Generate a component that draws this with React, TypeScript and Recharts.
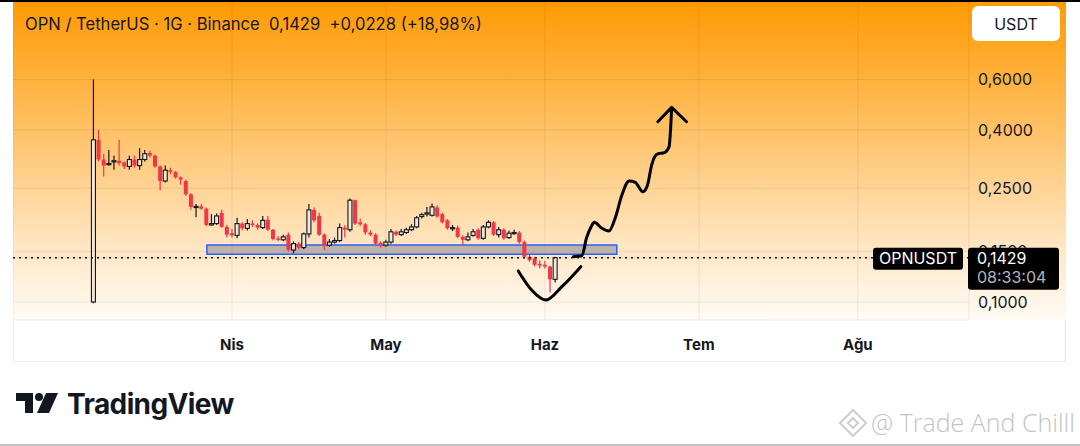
import React from 'react';
import {
    ComposedChart,
    Bar,
    Line,
    XAxis,
    YAxis,
    CartesianGrid,
    ReferenceLine,
    ReferenceArea,
} from 'recharts';

const font = 'Inter, Roboto, "Noto Sans", sans-serif';

// gün 0 = 1 Nisan, ilk mum 5 Mart
const firstDay = -27;

const opens = [
    0.100, 0.369, 0.315, 0.303, 0.310, 0.312, 0.308, 0.298, 0.315, 0.300,
    0.315, 0.332, 0.325, 0.298, 0.265, 0.289, 0.285, 0.273, 0.265, 0.238,
    0.214, 0.216, 0.212, 0.186, 0.188, 0.205, 0.183, 0.174, 0.171, 0.188,
    0.181, 0.188, 0.186, 0.182, 0.194, 0.179, 0.167, 0.165, 0.172, 0.152,
    0.160, 0.155, 0.173, 0.210, 0.200, 0.172, 0.158, 0.162, 0.164, 0.182,
    0.179, 0.227, 0.190, 0.187, 0.175, 0.172, 0.161, 0.158, 0.162, 0.176,
    0.172, 0.175, 0.179, 0.183, 0.199, 0.203, 0.201, 0.214, 0.203, 0.193,
    0.181, 0.182, 0.169, 0.165, 0.171, 0.179, 0.167, 0.183, 0.190, 0.172,
    0.179, 0.168, 0.174, 0.175, 0.162, 0.144, 0.142, 0.136, 0.135, 0.133, 0.120,
];
const highs = [
    0.600, 0.400, 0.330, 0.340, 0.325, 0.369, 0.310, 0.325, 0.325, 0.345,
    0.340, 0.338, 0.328, 0.300, 0.300, 0.295, 0.287, 0.275, 0.268, 0.240,
    0.220, 0.220, 0.214, 0.203, 0.204, 0.210, 0.186, 0.180, 0.197, 0.190,
    0.195, 0.193, 0.188, 0.200, 0.200, 0.180, 0.170, 0.172, 0.175, 0.163,
    0.162, 0.175, 0.220, 0.214, 0.205, 0.174, 0.166, 0.168, 0.188, 0.186,
    0.230, 0.228, 0.196, 0.189, 0.178, 0.174, 0.163, 0.165, 0.180, 0.178,
    0.180, 0.182, 0.187, 0.200, 0.205, 0.215, 0.221, 0.218, 0.205, 0.195,
    0.186, 0.185, 0.171, 0.175, 0.180, 0.181, 0.186, 0.193, 0.192, 0.183,
    0.181, 0.178, 0.179, 0.177, 0.164, 0.146, 0.144, 0.140, 0.139, 0.134, 0.144,
];
const lows = [
    0.099, 0.310, 0.275, 0.300, 0.290, 0.300, 0.292, 0.290, 0.295, 0.290,
    0.310, 0.320, 0.295, 0.246, 0.262, 0.280, 0.270, 0.257, 0.235, 0.210,
    0.198, 0.210, 0.184, 0.185, 0.186, 0.182, 0.168, 0.168, 0.167, 0.178,
    0.178, 0.183, 0.179, 0.180, 0.177, 0.164, 0.163, 0.163, 0.150, 0.148,
    0.153, 0.153, 0.168, 0.190, 0.170, 0.152, 0.156, 0.160, 0.162, 0.168,
    0.176, 0.186, 0.184, 0.172, 0.170, 0.158, 0.155, 0.156, 0.160, 0.170,
    0.170, 0.173, 0.177, 0.181, 0.196, 0.199, 0.199, 0.197, 0.188, 0.179,
    0.177, 0.167, 0.158, 0.163, 0.169, 0.165, 0.165, 0.181, 0.170, 0.168,
    0.165, 0.166, 0.172, 0.160, 0.142, 0.138, 0.133, 0.131, 0.131, 0.108, 0.117,
];
const closes = [
    0.369, 0.315, 0.300, 0.305, 0.312, 0.306, 0.298, 0.315, 0.300, 0.315,
    0.330, 0.325, 0.298, 0.265, 0.289, 0.285, 0.273, 0.268, 0.238, 0.215,
    0.216, 0.212, 0.186, 0.188, 0.200, 0.183, 0.172, 0.171, 0.188, 0.181,
    0.188, 0.186, 0.182, 0.193, 0.179, 0.166, 0.165, 0.169, 0.152, 0.160,
    0.155, 0.173, 0.210, 0.193, 0.172, 0.158, 0.162, 0.164, 0.182, 0.179,
    0.227, 0.188, 0.187, 0.175, 0.172, 0.160, 0.158, 0.162, 0.176, 0.172,
    0.176, 0.179, 0.183, 0.197, 0.202, 0.205, 0.215, 0.199, 0.190, 0.181,
    0.182, 0.169, 0.165, 0.169, 0.176, 0.167, 0.183, 0.190, 0.172, 0.179,
    0.167, 0.174, 0.175, 0.162, 0.144, 0.140, 0.135, 0.134, 0.133, 0.120, 0.1429,
];

const monthTicks = [0, 30, 61, 91, 122];
const monthLabels = ['Nis', 'May', 'Haz', 'Tem', 'Ağu'];
const priceTicks = [0.1, 0.15, 0.25, 0.4, 0.6];

const lastPrice = 0.1429;
const changeText = '+0,0228 (+18,98%)';
const countdown = '08:33:04';

// destek bölgesi
const zoneDays = [-4.9, 75];
const zonePrices = [0.1468, 0.1582];

// elle çizilmiş V ve yükseliş oku
const dipDays = [55.8, 58.4, 61.2, 64.3, 68.0];
const dipPrices = [0.1284, 0.1101, 0.1016, 0.1131, 0.1329];
const rallyDays = [66.5, 68.2, 69.1, 70.0, 70.6, 72.1, 73.5, 74.7, 76.0, 77.4, 78.6, 80.1, 81.0, 81.8, 82.8, 84.4, 85.2, 85.5, 85.7];
const rallyPrices = [0.144, 0.1452, 0.1674, 0.1834, 0.1899, 0.181, 0.1771, 0.1967, 0.2366, 0.2649, 0.2621, 0.243, 0.2566, 0.3013, 0.3284, 0.3338, 0.3491, 0.405, 0.4756];
const arrowDays = [83.0, 85.7, 88.6];
const arrowPrices = [0.427, 0.4794, 0.427];

const candles = opens.map((o, i) => ({
    day: firstDay + i,
    o,
    hi: highs[i],
    lo: lows[i],
    c: closes[i],
}));
const dipLine = dipDays.map((day, i) => ({ day, p: dipPrices[i] }));
const rallyLine = rallyDays.map((day, i) => ({ day, p: rallyPrices[i] }));
const arrowLine = arrowDays.map((day, i) => ({ day, p: arrowPrices[i] }));

// son fiyat etiketi en son çizilsin diye listenin sonuna eklenir
const axisTicks = [...priceTicks, lastPrice];

const fmt = (v: number) => v.toFixed(4).replace('.', ',');

const BODY_W = 4;

const Candle = (props: any) => {
    const { x, y, width, height, payload } = props;
    if (!payload) return null;
    const top = Math.min(y, y + height);
    const h = Math.abs(height);
    const { o, c, hi, lo } = payload;
    const span = Math.log(hi) - Math.log(lo) || 1;
    const py = (v: number) => top + ((Math.log(hi) - Math.log(v)) / span) * h;
    const up = c >= o;
    const bodyTop = py(Math.max(o, c));
    const bodyBottom = py(Math.min(o, c));
    const cx = x + width / 2;
    const color = up ? '#131722' : '#f23645';
    return (
        <g>
            <line x1={cx} x2={cx} y1={top} y2={top + h} stroke={color} strokeWidth={1.2} />
            <rect
                x={cx - BODY_W / 2}
                y={bodyTop}
                width={BODY_W}
                height={Math.max(1.2, bodyBottom - bodyTop)}
                fill={up ? '#f1e8d8' : '#f23645'}
                stroke={up ? '#131722' : 'none'}
                strokeWidth={1.1}
            />
        </g>
    );
};

// fiyat ekseni yazıları; son fiyat için siyah etiketler
const PriceTick = (props: any) => {
    const { x, y, payload } = props;
    const value = payload?.value;
    if (value === lastPrice) {
        const right = x - 9;
        return (
            <g fontFamily={font} fontSize={16}>
                <rect x={right - 96} y={y - 10} width={90} height={22} rx={3} fill="#000" />
                <text x={right - 51} y={y + 6} textAnchor="middle" fill="#fff">OPNUSDT</text>
                <rect x={right - 1} y={y - 10} width={91} height={42} rx={3} fill="#000" />
                <text x={right + 8} y={y + 6} fill="#fff">{fmt(lastPrice)}</text>
                <text x={right + 8} y={y + 25} fill="#b2b5be">{countdown}</text>
            </g>
        );
    }
    return (
        <text x={x} y={y} dy="0.355em" fill="#131722" fontSize={16} fontFamily={font}>
            {fmt(value)}
        </text>
    );
};

const TvLogo = () => (
    <svg width={44} height={22} viewBox="0 0 44 22" style={{ position: 'absolute', left: 16, top: 393 }}>
        <path d="M0 0 H17 V20 H9 V8 H0 Z" fill="#131722" />
        <circle cx={23} cy={4} r={4} fill="#131722" />
        <path d="M30 0 H42 L33 20 H21 Z" fill="#131722" />
    </svg>
);

const App: React.FC = () => {
    return (
        <div style={{ position: 'absolute', left: 0, top: 0, width: 1080, height: 446, background: '#fff', fontFamily: font, overflow: 'hidden' }}>
            <div style={{ position: 'absolute', left: 0, top: 0, width: 1080, height: 2, background: '#000' }} />
            <div
                style={{
                    position: 'absolute',
                    left: 13,
                    top: 2,
                    width: 1053,
                    height: 360,
                    borderLeft: '1px solid #ececec',
                    borderRight: '1px solid #e2e2e2',
                    borderBottom: '1px solid #ececec',
                    boxSizing: 'border-box',
                }}
            />
            <div
                style={{
                    position: 'absolute',
                    left: 13,
                    top: 2,
                    width: 1053,
                    height: 318,
                    background: 'linear-gradient(180deg, #ff9a05 0%, #ffb23e 25%, #ffcb80 50%, #ffe4bf 75%, #fffbf6 100%)',
                }}
            />
            <div style={{ position: 'absolute', left: 13, top: 2 }}>
                <ComposedChart width={1053} height={360} data={candles} margin={{ top: 0, right: 0, bottom: 0, left: 0 }}>
                    <CartesianGrid stroke="rgba(0,0,0,0.07)" />
                    <XAxis
                        dataKey="day"
                        type="number"
                        domain={[-42.69, 143.66]}
                        ticks={monthTicks}
                        interval={0}
                        allowDataOverflow
                        height={42}
                        axisLine={false}
                        tickLine={false}
                        tickSize={0}
                        tickMargin={19}
                        tick={{ fill: '#131722', fontSize: 15, fontWeight: 700, fontFamily: font }}
                        tickFormatter={(v: number) => monthLabels[monthTicks.indexOf(v)] ?? ''}
                    />
                    <YAxis
                        orientation="right"
                        scale="log"
                        domain={[0.0865, 1.12]}
                        ticks={axisTicks}
                        interval={0}
                        allowDataOverflow
                        width={97}
                        axisLine={false}
                        tickLine={false}
                        tickSize={0}
                        tickMargin={9}
                        tick={<PriceTick />}
                    />
                    <ReferenceArea
                        x1={zoneDays[0]}
                        x2={zoneDays[1]}
                        y1={zonePrices[0]}
                        y2={zonePrices[1]}
                        fill="#8a8790"
                        fillOpacity={0.55}
                        stroke="#2962ff"
                        strokeWidth={1.5}
                    />
                    <Bar
                        dataKey={(d: any) => [d.lo, d.hi]}
                        barSize={4}
                        shape={<Candle />}
                        isAnimationActive={false}
                    />
                    <Line data={dipLine} dataKey="p" type="monotone" stroke="#000" strokeWidth={3} strokeLinecap="round" dot={false} isAnimationActive={false} />
                    <Line data={rallyLine} dataKey="p" type="monotone" stroke="#000" strokeWidth={3} strokeLinecap="round" dot={false} isAnimationActive={false} />
                    <Line data={arrowLine} dataKey="p" type="linear" stroke="#000" strokeWidth={3} strokeLinecap="round" strokeLinejoin="round" dot={false} isAnimationActive={false} />
                    <ReferenceLine y={lastPrice} stroke="#131722" strokeWidth={1.5} strokeDasharray="2 4" />
                </ComposedChart>
            </div>
            <div style={{ position: 'absolute', left: 25, top: 14, fontSize: 16.6, color: '#131722', whiteSpace: 'pre' }}>
                {'OPN / TetherUS · 1G · Binance  ' + fmt(lastPrice) + '  ' + changeText}
            </div>
            <div
                style={{
                    position: 'absolute',
                    left: 972,
                    top: 6,
                    width: 88,
                    height: 35,
                    background: '#fff',
                    borderRadius: 6,
                    fontSize: 16,
                    color: '#131722',
                    display: 'flex',
                    alignItems: 'center',
                    justifyContent: 'center',
                }}
            >
                USDT
            </div>
            <TvLogo />
            <div style={{ position: 'absolute', left: 67, top: 387, fontSize: 28, fontWeight: 700, color: '#131722', letterSpacing: -0.6 }}>
                TradingView
            </div>
            <svg width={34} height={30} viewBox="0 0 34 30" style={{ position: 'absolute', left: 836, top: 408 }}>
                <g fill="none" stroke="#cfcfcf" strokeWidth={2.2}>
                    <path d="M17 2 L30 15 L17 28 L4 15 Z" />
                    <path d="M17 10 L22 15 L17 20 L12 15 Z" />
                </g>
            </svg>
            <div style={{ position: 'absolute', left: 871, top: 405, fontSize: 25, color: '#c4c4c4', fontFamily: '"Open Sans", sans-serif', fontWeight: 300, whiteSpace: 'pre' }}>
                @ Trade And Chilll
            </div>
            <div style={{ position: 'absolute', left: 0, top: 444, width: 1080, height: 2, background: '#c2c2c2' }} />
        </div>
    );
};

export default App;
